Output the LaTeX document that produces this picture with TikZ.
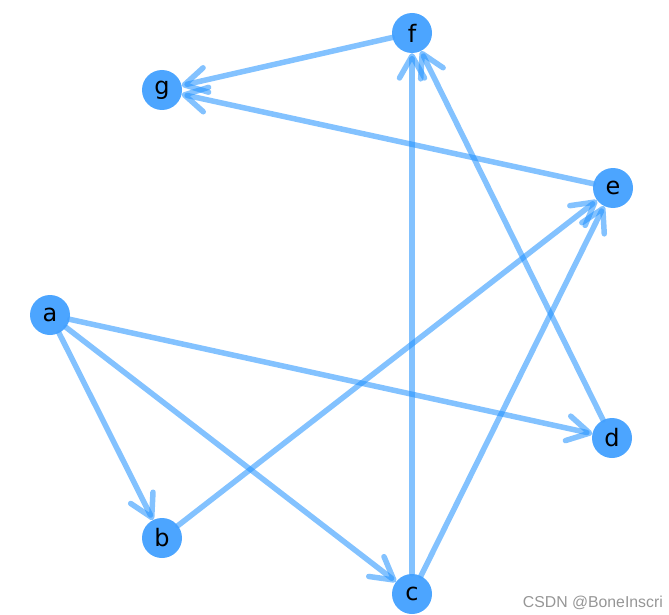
\documentclass[tikz,border=0pt]{standalone}
\usepackage{fontspec}
\setmainfont{DejaVu Sans}
\newfontfamily\wmfont{Liberation Sans}
\usetikzlibrary{arrows.meta}
\definecolor{nodeblue}{RGB}{66,160,255}
\definecolor{edgeblue}{RGB}{30,144,255}
\definecolor{wmgrey}{RGB}{150,150,150}
\tikzset{
  vtx/.style={circle,fill=nodeblue,fill opacity=0.95,text opacity=1,minimum size=40pt,inner sep=0pt,font=\fontsize{24}{24}\selectfont},
  edg/.style={draw=edgeblue,draw opacity=0.55,line width=5.5pt,line cap=round,
    -{Straight Barb[length=22pt,width=25pt,line cap=round,line join=round]}}
}
\begin{document}
\begin{tikzpicture}[x=1pt,y=-1pt]
\useasboundingbox (0,0) rectangle (669,615);
\coordinate (pf) at (412,33);
\coordinate (pg) at (162,90);
\coordinate (pe) at (613,188);
\coordinate (pa) at (50,315);
\coordinate (pd) at (612,438);
\coordinate (pb) at (162,538);
\coordinate (pc) at (412,594);
% invisible anchors for edge ends
\foreach \n in {a,b,c,d,e,f,g} {\node[circle,minimum size=40pt,inner sep=0pt] (\n) at (p\n) {};}
\draw[edg] (f) -- (g);
\draw[edg] (e) -- (g);
\draw[edg] (a) -- (b);
\draw[edg] (a) -- (c);
\draw[edg] (a) -- (d);
\draw[edg] (b) -- (e);
\draw[edg] (c) -- (e);
\draw[edg] (c) -- (f);
\draw[edg] (d) -- (f);
\node[vtx] (na) at (pa) {a};
\node[vtx] (nb) at (pb) {b};
\node[vtx] (nc) at (pc) {c};
\node[vtx] (nd) at (pd) {d};
\node[vtx] (ne) at (pe) {e};
\node[vtx] (nf) at (pf) {f};
\node[vtx] (ng) at (pg) {g};
\node[text=wmgrey,font=\wmfont\fontsize{15.8}{15.8}\selectfont,anchor=east,inner sep=0pt] (wm) at (663,603) {CSDN @BoneInscri};
\end{tikzpicture}
\end{document}
